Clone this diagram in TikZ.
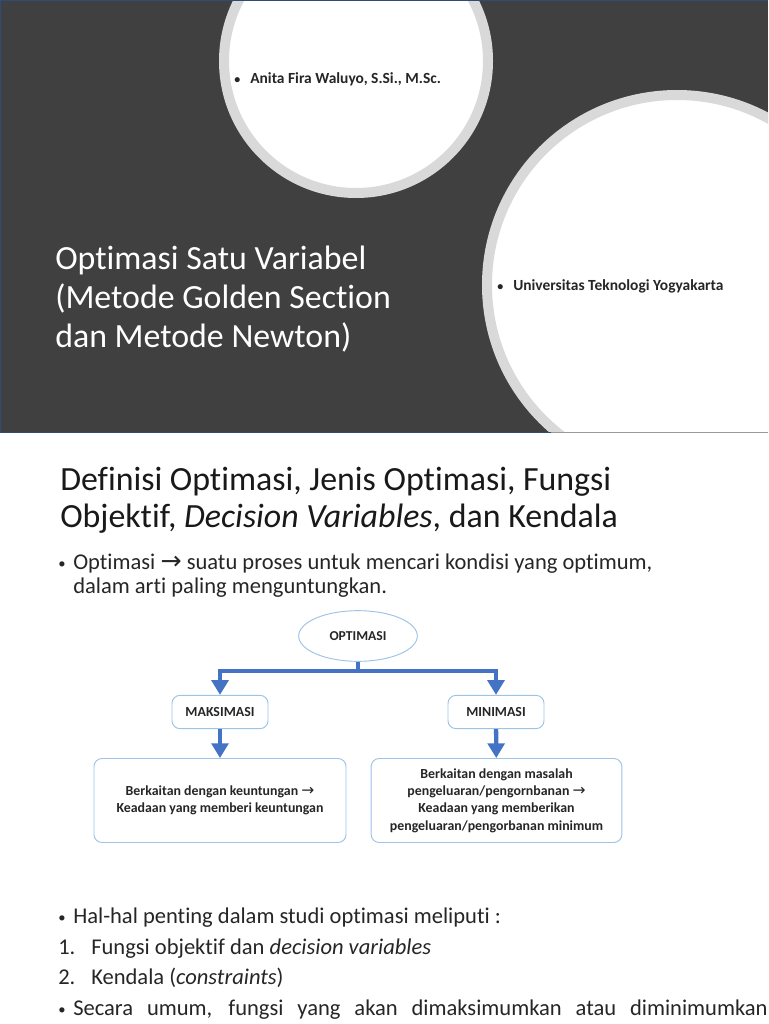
\documentclass[tikz,border=0pt]{standalone}
\usepackage{fontspec}
\setmainfont[Ligatures=NoCommon]{Carlito}
\newfontfamily\arrowfont[Scale=1.12]{DejaVu Sans}
\usetikzlibrary{arrows.meta,shapes.geometric}
\definecolor{slidedark}{HTML}{404040}
\definecolor{slideedge}{HTML}{2F4B7C}
\definecolor{ringgray}{HTML}{D9D9D9}
\definecolor{boxedge}{HTML}{9DC3E6}
\definecolor{flowblue}{HTML}{4472C4}
\newcommand{\toarrow}{{\mdseries\arrowfont →}}
\newcommand{\bulitem}{\makebox[11.25pt][l]{\raisebox{0.5pt}{\fontsize{11}{11}\selectfont•}}}
\newcommand{\ringbul}{\makebox[12pt][l]{\fontsize{9}{9}\selectfont•}}
\tikzset{
    px/.style={x=0.75pt,y=-0.75pt},
    ring/.style={draw=ringgray,fill=white,line width=7.5pt},
    titletext/.style={anchor=base west,inner sep=0pt,font=\fontsize{25.4}{28}\selectfont,text=white},
    headtext/.style={anchor=base west,inner sep=0pt,font=\fontsize{25.4}{28}\selectfont,text=black!90},
    bodytext/.style={anchor=base west,inner sep=0pt,font=\fontsize{16.9}{20}\selectfont,text=black!85},
    ringtext/.style={anchor=base west,inner sep=0pt,font=\fontsize{11.6}{14}\selectfont\bfseries,text=black!85},
    flowbox/.style={draw=boxedge,fill=white,rounded corners=6pt,line width=0.7pt,align=center,inner sep=0pt,font=\fontsize{10.4}{12.9}\selectfont\bfseries,text=black!85},
    flowoval/.style={draw=boxedge,fill=white,ellipse,line width=0.7pt,inner sep=0pt,font=\fontsize{10.2}{12}\selectfont\bfseries,text=black!85},
    flowarrow/.style={draw=flowblue,line width=3.2pt,-{Triangle[length=11pt,width=12.5pt]}},
    flowline/.style={draw=flowblue,line width=2.6pt}
}
\begin{document}
\begin{tikzpicture}[px]
    \useasboundingbox (0,0) rectangle (768,1024);
    \fill[white] (0,0) rectangle (768,1024);

    \begin{scope}
        \clip (0,0) rectangle (768,432);
        \fill[slidedark] (0,0) rectangle (768,432);
        \node[ring,circle,minimum size=198pt] (topring) at (356,61) {};
        \node[ring,circle,minimum size=285pt] (sidering) at (677,285) {};
    \end{scope}
    \draw[slideedge,line width=0.8pt] (768,0.5) -- (0.5,0.5) -- (0.5,432.5) -- (551,432.5);
    \draw[black!40,line width=0.8pt] (551,432.5) -- (768,432.5);

    \node[ringtext] (author) at (234,84) {\ringbul Anita Fira Waluyo, S.Si., M.Sc.};
    \node[ringtext] (campus) at (497,290) {\ringbul Universitas Teknologi Yogyakarta};

    \node[titletext] (titlea) at (55,269) {Optimasi Satu Variabel};
    \node[titletext] (titleb) at (55,308) {(Metode Golden Section};
    \node[titletext] (titlec) at (55,347) {dan Metode Newton)};

    \node[headtext] (heada) at (60,490) {Definisi Optimasi, Jenis Optimasi, Fungsi};
    \node[headtext] (headb) at (60,527) {Objektif, \textit{Decision Variables}, dan Kendala};

    \node[bodytext] (introa) at (58,569) {\bulitem Optimasi \toarrow{} suatu proses untuk mencari kondisi yang optimum,};
    \node[bodytext] (introb) at (73,593) {dalam arti paling menguntungkan.};

    \node[flowoval,minimum width=89pt,minimum height=38pt] (optimasi) at (358,636) {OPTIMASI};
    \node[flowbox,minimum width=72pt,minimum height=25pt] (maksimasi) at (220,712) {MAKSIMASI};
    \node[flowbox,minimum width=72pt,minimum height=25pt] (minimasi) at (496,712) {MINIMASI};
    \node[flowbox,minimum width=189pt,minimum height=63pt] (untung) at (220,800.5) {Berkaitan dengan keuntungan \toarrow\\Keadaan yang memberi keuntungan};
    \node[flowbox,minimum width=188pt,minimum height=63pt] (rugi) at (496.5,800.5) {Berkaitan dengan masalah\\pengeluaran/pengornbanan \toarrow\\Keadaan yang memberikan\\pengeluaran/pengorbanan minimum};

    \coordinate (split) at (358,671);
    \draw[flowline] (optimasi) -- (split);
    \draw[flowarrow] (split) -| (maksimasi);
    \draw[flowarrow] (split) -| (minimasi);
    \draw[flowarrow] (maksimasi) -- (untung);
    \draw[flowarrow] (minimasi) -- (rugi);

    \node[bodytext] (pointa) at (58,923) {\bulitem Hal-hal penting dalam studi optimasi meliputi :};
    \node[bodytext] (pointb) at (58,954) {\makebox[24.75pt][l]{1.}Fungsi objektif dan \textit{decision variables}};
    \node[bodytext] (pointc) at (58,984) {\makebox[24.75pt][l]{2.}Kendala (\textit{constraints})};
    \node[bodytext] (pointd) at (58,1015) {\makebox[532pt][s]{\bulitem Secara umum, fungsi yang akan dimaksimumkan atau diminimumkan}};
\end{tikzpicture}
\end{document}
